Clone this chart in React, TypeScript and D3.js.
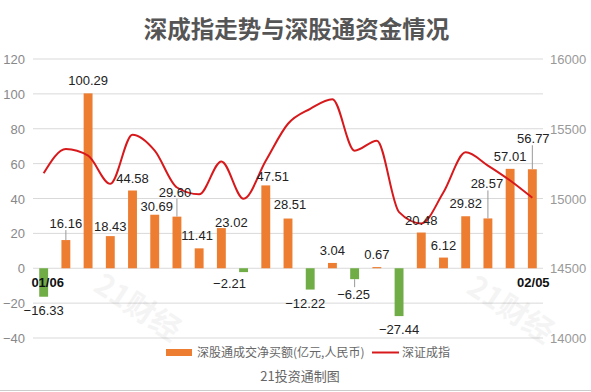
import React from "react";
import { scaleBand, scaleLinear, line, curveMonotoneX } from "d3";

const dates = [
  "01/06", "01/07", "01/08", "01/11", "01/12", "01/13", "01/14", "01/15",
  "01/18", "01/19", "01/20", "01/21", "01/22", "01/25", "01/26", "01/27",
  "01/28", "01/29", "02/01", "02/02", "02/03", "02/04", "02/05",
];

// 深股通成交净买额(亿元,人民币)
const netBuy = [
  -16.33, 16.16, 100.29, 18.43, 44.58, 30.69, 29.6, 11.41, 23.02, -2.21, 47.51,
  28.51, -12.22, 3.04, -6.25, 0.67, -27.44, 20.48, 6.12, 29.82, 28.57, 57.01,
  56.77,
];

// 深证成指
const szIndex = [
  15181, 15355, 15307, 15105, 15457, 15343, 15079, 15030, 15266, 14998, 15271,
  15536, 15643, 15712, 15343, 15414, 14902, 14821, 15045, 15331, 15236, 15129,
  15005,
];

const leftTicks = [-40, -20, 0, 20, 40, 60, 80, 100, 120];
const rightTicks = [14000, 14500, 15000, 15500, 16000];

// label nudges where the original moved labels apart [dx, dy, leader]
const labelNudge: Record<number, [number, number, boolean]> = {
  1: [0, -4, true],
  3: [0, 3, false],
  5: [2, 4, false],
  6: [-2, -12, true],
  7: [-2, 0, false],
  8: [10, 7, false],
  9: [-14, -2, false],
  10: [7, 4, false],
  11: [2, -2, false],
  12: [-5, 0, false],
  14: [-1, 2, true],
  20: [-1, -22, true],
  22: [1, -18, true],
};

const W = 591;
const H = 392;
const FONT = "'Liberation Sans', Arial, 'Noto Sans CJK SC', sans-serif";
const CJK = "'Noto Sans CJK SC', 'Liberation Sans', sans-serif";
const ORANGE = "#ED7D31";
const GREEN = "#70AD47";
const RED = "#D7191C";

export default function App() {
  const x = scaleBand<string>()
    .domain(dates)
    .range([33, 543])
    .paddingInner(0.6)
    .paddingOuter(0.28);
  const yL = scaleLinear().domain([-40, 120]).range([338, 59]);
  const yR = scaleLinear().domain([14000, 16000]).range([338, 59]);
  const cx = (i: number) => (x(dates[i]) as number) + x.bandwidth() / 2;

  const path = line<number>()
    .x((_, i) => cx(i))
    .y((d) => yR(d))
    .curve(curveMonotoneX)(szIndex);

  return (
    <svg
      width={W}
      height={H}
      style={{ position: "absolute", left: 0, top: 0, background: "#fff" }}
      fontFamily={FONT}
    >
      <rect width={W} height={H} fill="#fff" />
      <text
        x={W / 2 + 1}
        y={38}
        textAnchor="middle"
        fontFamily={CJK}
        fontWeight="bold"
        fontSize={23.5}
        fill="#555"
      >
        深成指走势与深股通资金情况
      </text>

      {leftTicks.map((t) => (
        <g key={t}>
          <line x1={33} x2={543} y1={yL(t)} y2={yL(t)} stroke="#d9d9d9" />
          <text x={25} y={yL(t) + 5} textAnchor="end" fontSize={13} fill="#888">
            {t < 0 ? "\u2212" + Math.abs(t) : t}
          </text>
        </g>
      ))}
      {rightTicks.map((t) => (
        <text key={t} x={550} y={yR(t) + 5} fontSize={13} fill="#999">
          {t}
        </text>
      ))}

      {netBuy.map((v, i) => (
        <rect
          key={dates[i]}
          x={x(dates[i])}
          y={yL(Math.max(0, v))}
          width={x.bandwidth()}
          height={Math.abs(yL(v) - yL(0))}
          fill={v >= 0 ? ORANGE : GREEN}
        />
      ))}

      <path d={path || ""} fill="none" stroke={RED} strokeWidth={2} />

      {netBuy.map((v, i) => {
        const [dx, dy, leader] = labelNudge[i] || [0, 0, false];
        const edge = yL(v);
        const cy = (v >= 0 ? edge - 13 : edge + 13) + dy;
        return (
          <g key={"l" + i}>
            {leader && (
              <line
                x1={cx(i)}
                x2={cx(i)}
                y1={v >= 0 ? cy + 7 : cy - 7}
                y2={edge}
                stroke="#999"
                strokeWidth={1}
              />
            )}
            <text
              x={cx(i) + dx}
              y={cy + 5}
              textAnchor="middle"
              fontSize={13}
              fill="#222"
            >
              {v < 0 ? "\u2212" + Math.abs(v).toFixed(2) : v.toFixed(2)}
            </text>
          </g>
        );
      })}

      {[0, dates.length - 1].map((i) => (
        <text
          key={"d" + i}
          x={cx(i) + (i === 0 ? 4 : 1)}
          y={287}
          textAnchor="middle"
          fontSize={13}
          fontWeight="bold"
          fill="#111"
        >
          {dates[i]}
        </text>
      ))}

      <rect x={166} y={349} width={26} height={7} fill={ORANGE} />
      <text x={197} y={357} fontFamily={CJK} fontSize={12} fill="#666">
        深股通成交净买额(亿元,人民币)
      </text>
      <line x1={372} x2={399} y1={352.5} y2={352.5} stroke={RED} strokeWidth={2} />
      <text x={402} y={357} fontFamily={CJK} fontSize={12} fill="#666">
        深证成指
      </text>
      <text x={300} y={381} textAnchor="middle" fontFamily={CJK} fontSize={13} fill="#666">
        21投资通制图
      </text>

      {[
        [132, 316],
        [505, 318],
      ].map(([wx, wy], k) => (
        <text
          key={"w" + k}
          x={wx}
          y={wy}
          textAnchor="middle"
          fontFamily={CJK}
          fontWeight="bold"
          fontSize={30}
          fill="#000"
          opacity={0.04}
          transform={`rotate(33 ${wx} ${wy})`}
        >
          21财经
        </text>
      ))}
      <line x1={0} x2={W} y1={390.5} y2={390.5} stroke="#ccc" />
    </svg>
  );
}
